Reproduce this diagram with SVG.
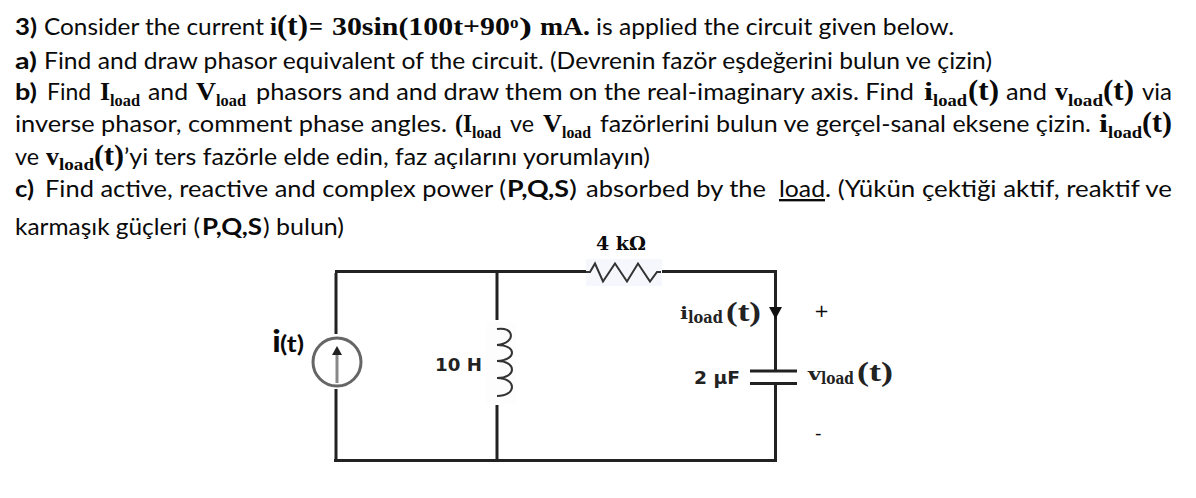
<svg xmlns="http://www.w3.org/2000/svg" width="1196" height="498" viewBox="0 0 1196 498">
<style>
text{fill:#0a0a0a;white-space:pre}
.s{font-family:"Lato","Open Sans",sans-serif;font-size:23.5px}
.b{font-weight:700}
.m{font-family:"Liberation Serif",serif;font-weight:700;font-size:25px}
.u{font-family:"Liberation Serif",serif;font-weight:700;font-size:17px}
.p{font-family:"Liberation Serif",serif;font-weight:700;font-size:29px}
.c{font-family:"DejaVu Sans",sans-serif;font-size:18px;font-weight:700;fill:#222}
.w{fill:none;stroke:#222;stroke-width:3}
.t{fill:none;stroke:#333;stroke-width:2}
.l{font-family:"DejaVu Serif",serif;font-weight:700;font-size:16px;fill:#222}
.r{font-family:"Liberation Serif",serif;font-weight:700;font-size:27px;fill:#222}
</style>
<rect width="1196" height="498" fill="#fff"/>
<g id="question">
<text class="s b" x="15" y="35" textLength="22" lengthAdjust="spacingAndGlyphs">3)</text>
<text class="s" x="44" y="35" textLength="220" lengthAdjust="spacingAndGlyphs">Consider the current</text>
<text class="m" x="270" y="35" textLength="7" lengthAdjust="spacingAndGlyphs">i</text>
<text class="p" x="277" y="35" textLength="31" lengthAdjust="spacingAndGlyphs">(t)</text>
<text class="m" x="309" y="35" textLength="14" lengthAdjust="spacingAndGlyphs">=</text>
<text class="m" x="332" y="35" textLength="178" lengthAdjust="spacingAndGlyphs">30sin(100t+90</text>
<text class="u" x="510" y="28" font-size="15">o</text>
<text class="m" x="519" y="35" textLength="13" lengthAdjust="spacingAndGlyphs">)</text>
<text class="m" x="540" y="35" textLength="50" lengthAdjust="spacingAndGlyphs">mA.</text>
<text class="s" x="596" y="35" textLength="358" lengthAdjust="spacingAndGlyphs">is applied the circuit given below.</text>
<text class="s b" x="15" y="69" textLength="22" lengthAdjust="spacingAndGlyphs">a)</text>
<text class="s" x="44" y="69" textLength="948" lengthAdjust="spacingAndGlyphs">Find and draw phasor equivalent of the circuit. (Devrenin fazör eşdeğerini bulun ve çizin)</text>
<text class="s b" x="15" y="100" textLength="22" lengthAdjust="spacingAndGlyphs">b)</text>
<text class="s" x="47" y="100" textLength="44" lengthAdjust="spacingAndGlyphs">Find</text>
<text class="m" x="100" y="100" textLength="10" lengthAdjust="spacingAndGlyphs">I</text>
<text class="u" x="110" y="106" textLength="30" lengthAdjust="spacingAndGlyphs">load</text>
<text class="s" x="148" y="100" textLength="40" lengthAdjust="spacingAndGlyphs">and</text>
<text class="m" x="196" y="100" textLength="20" lengthAdjust="spacingAndGlyphs">V</text>
<text class="u" x="216" y="106" textLength="30" lengthAdjust="spacingAndGlyphs">load</text>
<text class="s" x="256" y="100" textLength="658" lengthAdjust="spacingAndGlyphs">phasors and and draw them on the real-imaginary axis. Find</text>
<text class="m" x="924" y="100" textLength="9" lengthAdjust="spacingAndGlyphs">i</text>
<text class="u" x="933" y="106" textLength="34" lengthAdjust="spacingAndGlyphs">load</text>
<text class="p" x="968" y="100" textLength="31" lengthAdjust="spacingAndGlyphs">(t)</text>
<text class="s" x="1006" y="100" textLength="41" lengthAdjust="spacingAndGlyphs">and</text>
<text class="m" x="1055" y="100" textLength="13" lengthAdjust="spacingAndGlyphs">v</text>
<text class="u" x="1068" y="106" textLength="35" lengthAdjust="spacingAndGlyphs">load</text>
<text class="p" x="1103" y="100" textLength="31" lengthAdjust="spacingAndGlyphs">(t)</text>
<text class="s" x="1142" y="100" textLength="30" lengthAdjust="spacingAndGlyphs">via</text>
<text class="s" x="15" y="132" textLength="432" lengthAdjust="spacingAndGlyphs">inverse phasor, comment phase angles.</text>
<text class="m" x="455" y="132" textLength="8" lengthAdjust="spacingAndGlyphs">(</text>
<text class="m" x="463" y="132" textLength="9" lengthAdjust="spacingAndGlyphs">I</text>
<text class="u" x="472" y="138" textLength="29" lengthAdjust="spacingAndGlyphs">load</text>
<text class="s" x="510" y="132" textLength="24" lengthAdjust="spacingAndGlyphs">ve</text>
<text class="m" x="543" y="132" textLength="19" lengthAdjust="spacingAndGlyphs">V</text>
<text class="u" x="562" y="138" textLength="29" lengthAdjust="spacingAndGlyphs">load</text>
<text class="s" x="600" y="132" textLength="491" lengthAdjust="spacingAndGlyphs">fazörlerini bulun ve gerçel-sanal eksene çizin.</text>
<text class="m" x="1099" y="132" textLength="9" lengthAdjust="spacingAndGlyphs">i</text>
<text class="u" x="1108" y="138" textLength="34" lengthAdjust="spacingAndGlyphs">load</text>
<text class="p" x="1142" y="132" textLength="30" lengthAdjust="spacingAndGlyphs">(t)</text>
<text class="s" x="15" y="165" textLength="24" lengthAdjust="spacingAndGlyphs">ve</text>
<text class="m" x="46" y="165" textLength="13" lengthAdjust="spacingAndGlyphs">v</text>
<text class="u" x="59" y="170" textLength="35" lengthAdjust="spacingAndGlyphs">load</text>
<text class="p" x="94" y="165" textLength="30" lengthAdjust="spacingAndGlyphs">(t)</text>
<text class="s" x="124" y="165" textLength="526" lengthAdjust="spacingAndGlyphs">’yi ters fazörle elde edin, faz açılarını yorumlayın)</text>
<text class="s b" x="15" y="197" textLength="19" lengthAdjust="spacingAndGlyphs">c)</text>
<text class="s" x="45" y="197" textLength="461" lengthAdjust="spacingAndGlyphs">Find active, reactive and complex power (</text>
<text class="s b" x="507" y="197" textLength="62" lengthAdjust="spacingAndGlyphs">P,Q,S</text>
<text class="s" x="569" y="197" textLength="8" lengthAdjust="spacingAndGlyphs">)</text>
<text class="s" x="586" y="197" textLength="180" lengthAdjust="spacingAndGlyphs">absorbed by the</text>
<text class="s" x="779" y="197" textLength="46" lengthAdjust="spacingAndGlyphs" text-decoration="underline">load</text>
<text class="s" x="825" y="197" textLength="347" lengthAdjust="spacingAndGlyphs">. (Yükün çektiği aktif, reaktif ve</text>
<text class="s" x="15" y="235" textLength="185" lengthAdjust="spacingAndGlyphs">karmaşık güçleri (</text>
<text class="s b" x="202" y="235" textLength="60" lengthAdjust="spacingAndGlyphs">P,Q,S</text>
<text class="s" x="263" y="235" textLength="81" lengthAdjust="spacingAndGlyphs">) bulun)</text>
</g>
<g id="connectors">
<path class="w" d="M335 271.500H587M660 271.500H777M336 273V334M336 389V461M497 272V320M497 405V460M775.500 272V371M775.500 384V461M334 460.500H777"/>
</g>
<g id="current-source">
<circle cx="337" cy="362" r="24" fill="#fff" stroke="#666" stroke-width="3"/>
<path d="M337 383V352" stroke="#888" stroke-width="3"/>
<path d="M337 346l-5 9h10z" fill="#222"/>
<text x="272" y="352" font-family="Lato,sans-serif" font-weight="700" font-size="31" textLength="9" lengthAdjust="spacingAndGlyphs">i</text>
<text x="280" y="352" font-family="Lato,sans-serif" font-weight="700" font-size="22" textLength="24" lengthAdjust="spacingAndGlyphs">(t)</text>
</g>
<g id="inductor">
<rect x="486" y="322" width="30" height="82" fill="#fdfdfd"/>
<path class="t" d="M497 329C514 326 517 343 497 345C517 345 517 360 497 361C517 361 517 378 497 378C517 378 517 396 497 396"/>
<text class="c" x="435" y="371" textLength="47" lengthAdjust="spacingAndGlyphs">10 H</text>
</g>
<g id="resistor">
<rect x="586" y="259" width="76" height="27" fill="#f6f6fd"/>
<path class="t" d="M586 272H590L595 263.500L603 281.500L615 263.500L627 281.500L638 263.500L650 281.500L657 272H661"/>
<text x="596" y="250" font-family="DejaVu Serif,serif" font-weight="700" font-size="18" fill="#222" textLength="50" lengthAdjust="spacingAndGlyphs">4 kΩ</text>
</g>
<g id="capacitor">
<path d="M750 371H797M750 383.500H797" stroke="#222" stroke-width="3" fill="none"/>
<text class="c" x="694" y="384" textLength="46" lengthAdjust="spacingAndGlyphs">2 μF</text>
<text class="l" x="808" y="380" textLength="13" lengthAdjust="spacingAndGlyphs">v</text>
<text class="l" x="821" y="384" textLength="33" lengthAdjust="spacingAndGlyphs">load</text>
<text class="r" x="857" y="381" textLength="36" lengthAdjust="spacingAndGlyphs">(t)</text>
<text x="814" y="317" font-family="DejaVu Sans,sans-serif" font-size="18" fill="#222">+</text>
<text x="815" y="439" font-family="DejaVu Sans,sans-serif" font-size="18" fill="#222">-</text>
</g>
<g id="load-current">
<path d="M769 307H782L775.500 319z" fill="#111"/>
<text class="l" x="680" y="319" textLength="8" lengthAdjust="spacingAndGlyphs">i</text>
<text class="l" x="688" y="323" textLength="35" lengthAdjust="spacingAndGlyphs">load</text>
<text class="r" x="726" y="321" textLength="35" lengthAdjust="spacingAndGlyphs">(t)</text>
</g>
</svg>
